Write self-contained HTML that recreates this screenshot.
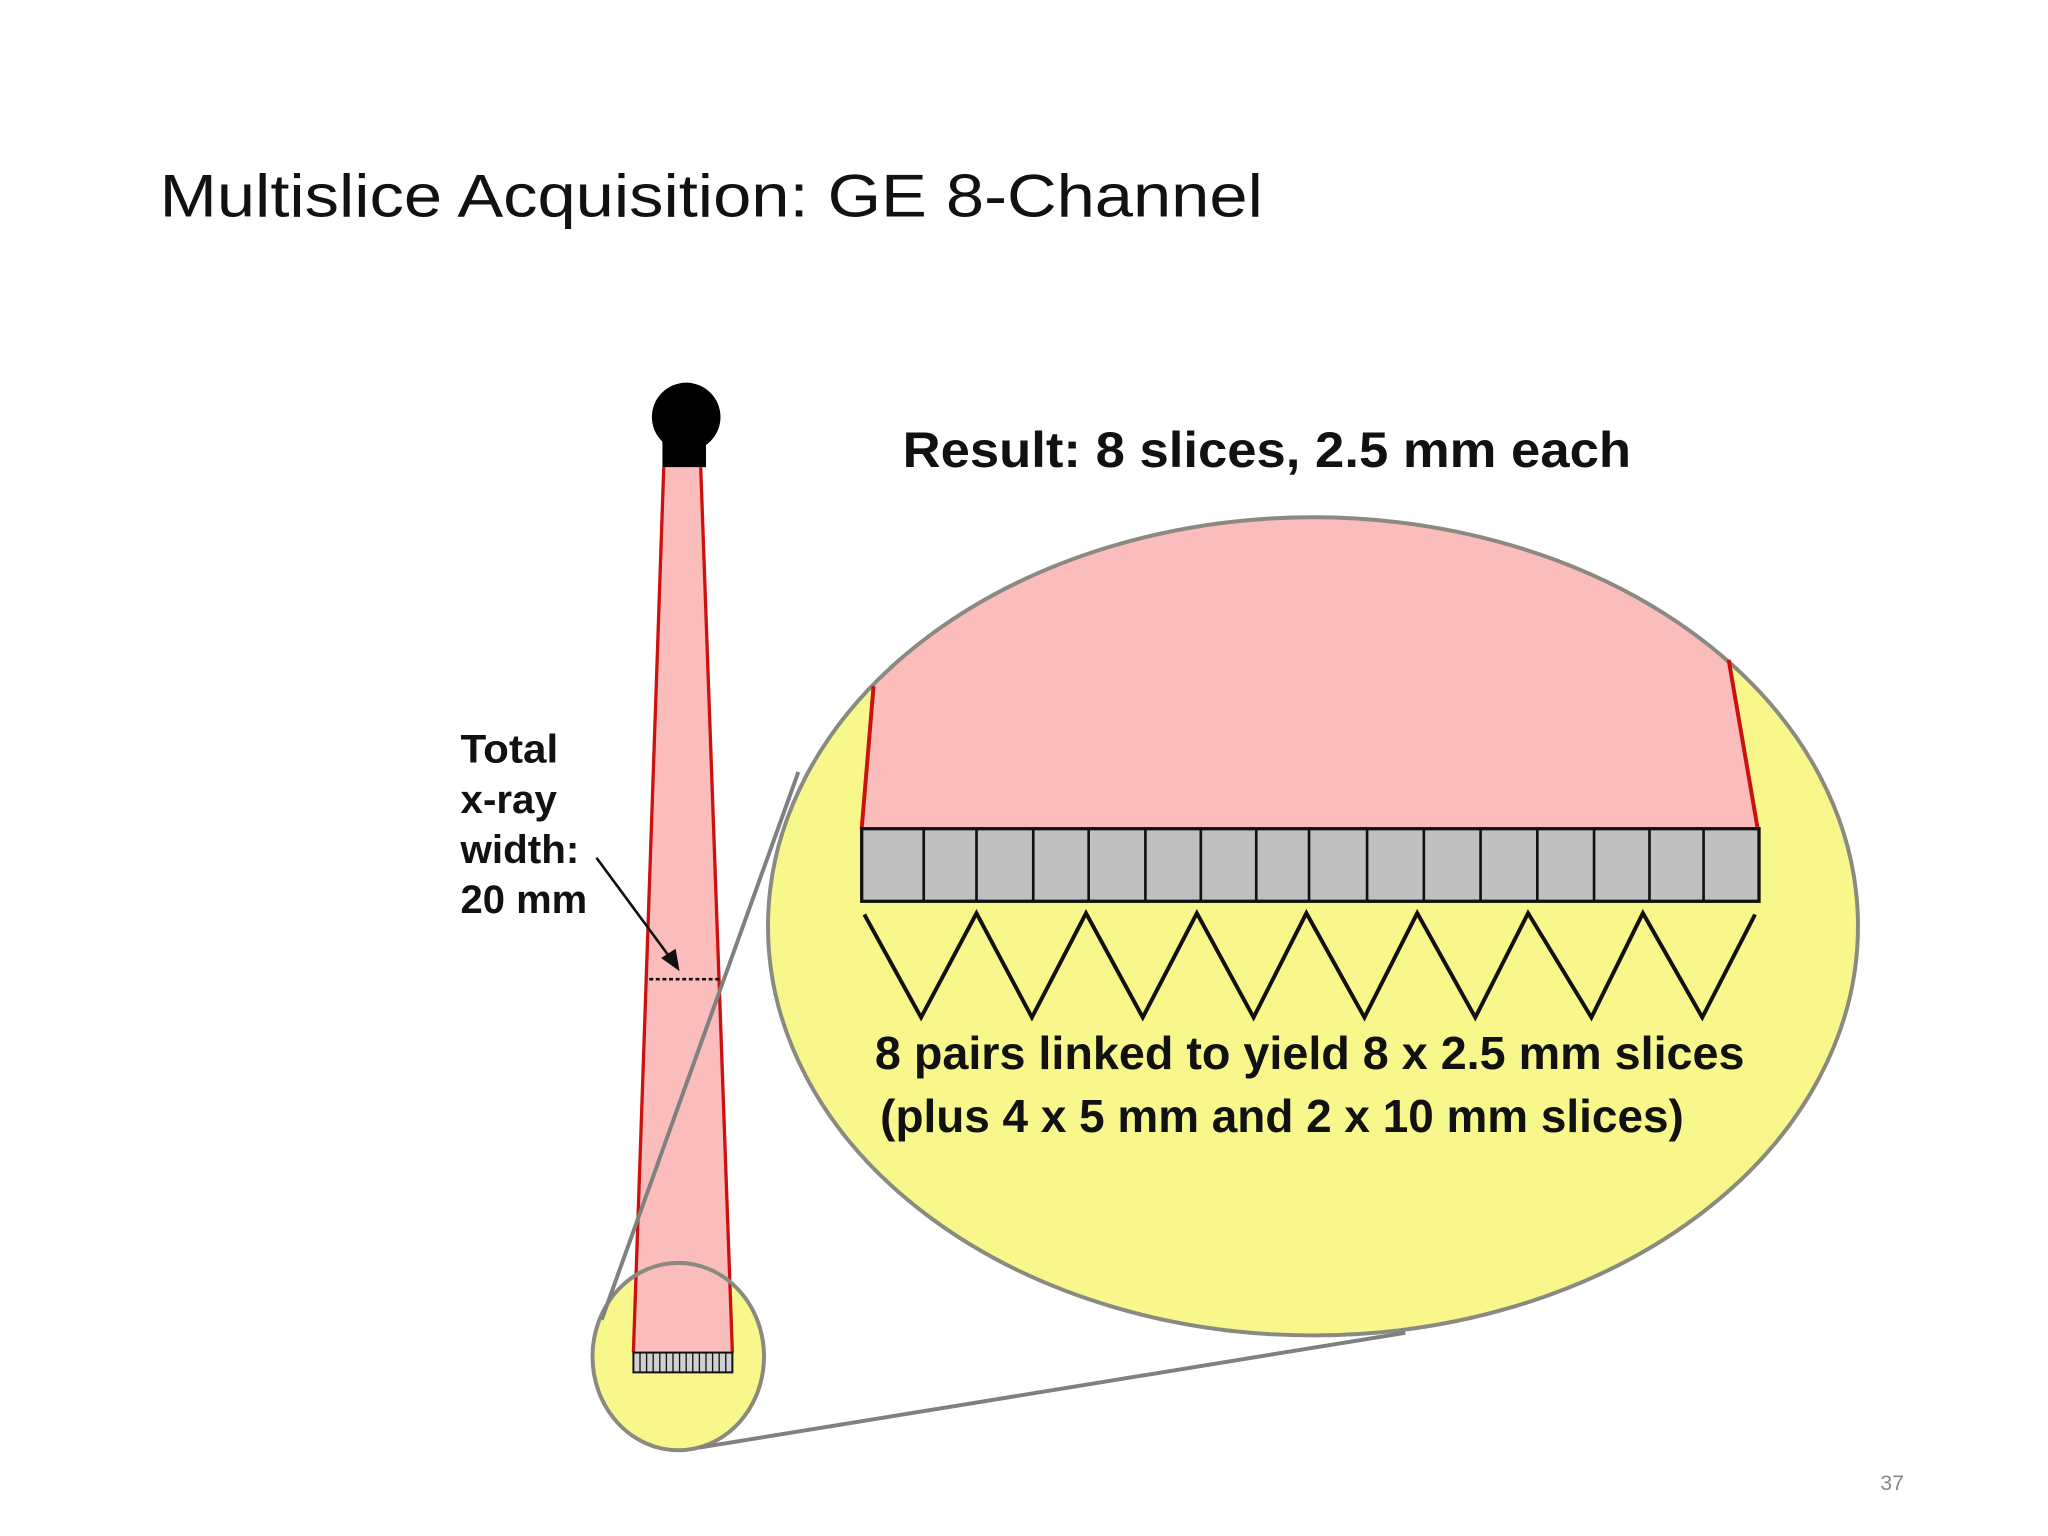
<!DOCTYPE html>
<html><head><meta charset="utf-8"><style>html,body{margin:0;padding:0;background:#fff}svg{display:block}</style></head>
<body>
<svg width="2048" height="1536" viewBox="0 0 1552 1164" xmlns="http://www.w3.org/2000/svg">
<defs>
<clipPath id="ec"><ellipse cx="995" cy="702" rx="413" ry="310"/></clipPath>
</defs>
<text x="121" y="164" font-family="Liberation Sans, sans-serif" font-size="46" fill="#111" textLength="836" lengthAdjust="spacingAndGlyphs">Multislice Acquisition: GE 8-Channel</text>
<!-- big ellipse -->
<ellipse cx="995" cy="702" rx="413" ry="310" fill="#f7f78c"/>
<g clip-path="url(#ec)">
<polygon points="662,520 653,628 1332,628 1310,500 1310,380 662,380" fill="#fbbcbc"/>
</g>
<ellipse cx="995" cy="702" rx="413" ry="310" fill="none" stroke="#8a8a80" stroke-width="3"/>
<line x1="662" y1="520" x2="653" y2="628" stroke="#cc1111" stroke-width="3"/>
<line x1="1310" y1="500" x2="1332" y2="628" stroke="#cc1111" stroke-width="3"/>
<rect x="653" y="628" width="680" height="55" fill="#c0c0c0" stroke="#111" stroke-width="2.5"/>
<g stroke="#111" stroke-width="2">
<line x1="700" y1="628" x2="700" y2="683"/><line x1="740" y1="628" x2="740" y2="683"/>
<line x1="783" y1="628" x2="783" y2="683"/><line x1="825" y1="628" x2="825" y2="683"/>
<line x1="868" y1="628" x2="868" y2="683"/><line x1="910" y1="628" x2="910" y2="683"/>
<line x1="952" y1="628" x2="952" y2="683"/><line x1="992" y1="628" x2="992" y2="683"/>
<line x1="1036" y1="628" x2="1036" y2="683"/><line x1="1079" y1="628" x2="1079" y2="683"/>
<line x1="1122" y1="628" x2="1122" y2="683"/><line x1="1165" y1="628" x2="1165" y2="683"/>
<line x1="1208" y1="628" x2="1208" y2="683"/><line x1="1250" y1="628" x2="1250" y2="683"/>
<line x1="1291" y1="628" x2="1291" y2="683"/>
</g>
<polyline points="655,693 698,771 740,692 782,771 823,692 866,771 907,692 950,771 990,692 1034,771 1074,692 1118,771 1158,692 1206,771 1245,692 1290,771 1330,693" fill="none" stroke="#111" stroke-width="3"/>
<text x="663" y="810" font-family="Liberation Sans, sans-serif" font-weight="bold" font-size="35" fill="#111" textLength="659" lengthAdjust="spacingAndGlyphs">8 pairs linked to yield 8 x 2.5 mm slices</text>
<text x="667" y="858" font-family="Liberation Sans, sans-serif" font-weight="bold" font-size="35" fill="#111" textLength="609" lengthAdjust="spacingAndGlyphs">(plus 4 x 5 mm and 2 x 10 mm slices)</text>
<text x="684" y="354" font-family="Liberation Sans, sans-serif" font-weight="bold" font-size="38" fill="#111" textLength="552" lengthAdjust="spacingAndGlyphs">Result: 8 slices, 2.5 mm each</text>
<!-- small circle fill -->
<ellipse cx="514" cy="1028" rx="65" ry="71" fill="#f7f78c"/>
<!-- beam -->
<polygon points="503,354 531,354 555,1025 480,1025" fill="#fbbcbc"/>
<line x1="503" y1="354" x2="480" y2="1025" stroke="#cc1111" stroke-width="2.5"/>
<line x1="531" y1="354" x2="555" y2="1025" stroke="#cc1111" stroke-width="2.5"/>
<!-- small circle outline on top -->
<ellipse cx="514" cy="1028" rx="65" ry="71" fill="none" stroke="#8a8a80" stroke-width="3"/>
<!-- connector lines -->
<line x1="456" y1="1000" x2="605" y2="585" stroke="#808080" stroke-width="3"/>
<line x1="530" y1="1097" x2="1065" y2="1010" stroke="#808080" stroke-width="3"/>
<rect x="480" y="1025" width="75" height="15" fill="#d0d0d0" stroke="#111" stroke-width="1.5"/>
<g stroke="#111" stroke-width="1">
<line x1="485" y1="1025" x2="485" y2="1040"/><line x1="490" y1="1025" x2="490" y2="1040"/><line x1="495" y1="1025" x2="495" y2="1040"/><line x1="500" y1="1025" x2="500" y2="1040"/><line x1="505" y1="1025" x2="505" y2="1040"/><line x1="510" y1="1025" x2="510" y2="1040"/><line x1="515" y1="1025" x2="515" y2="1040"/><line x1="520" y1="1025" x2="520" y2="1040"/><line x1="525" y1="1025" x2="525" y2="1040"/><line x1="530" y1="1025" x2="530" y2="1040"/><line x1="535" y1="1025" x2="535" y2="1040"/><line x1="540" y1="1025" x2="540" y2="1040"/><line x1="545" y1="1025" x2="545" y2="1040"/><line x1="550" y1="1025" x2="550" y2="1040"/>
</g>
<!-- source -->
<circle cx="520" cy="316" r="26" fill="#000"/>
<rect x="502" y="328" width="33" height="26" fill="#000"/>
<!-- label -->
<g font-family="Liberation Sans, sans-serif" font-weight="bold" font-size="30" fill="#111">
<text x="349" y="578" textLength="74" lengthAdjust="spacingAndGlyphs">Total</text>
<text x="349" y="616" textLength="73" lengthAdjust="spacingAndGlyphs">x-ray</text>
<text x="349" y="654" textLength="90" lengthAdjust="spacingAndGlyphs">width:</text>
<text x="349" y="692" textLength="96" lengthAdjust="spacingAndGlyphs">20 mm</text>
</g>
<line x1="452" y1="650" x2="508" y2="726" stroke="#111" stroke-width="2"/>
<polygon points="515,736 501,726 512,719" fill="#111"/>
<line x1="492" y1="742" x2="545" y2="742" stroke="#111" stroke-width="2" stroke-dasharray="3,2"/>
<text x="1425" y="1129" font-family="Liberation Sans, sans-serif" font-size="16" fill="#888">37</text>
</svg>
</body></html>
